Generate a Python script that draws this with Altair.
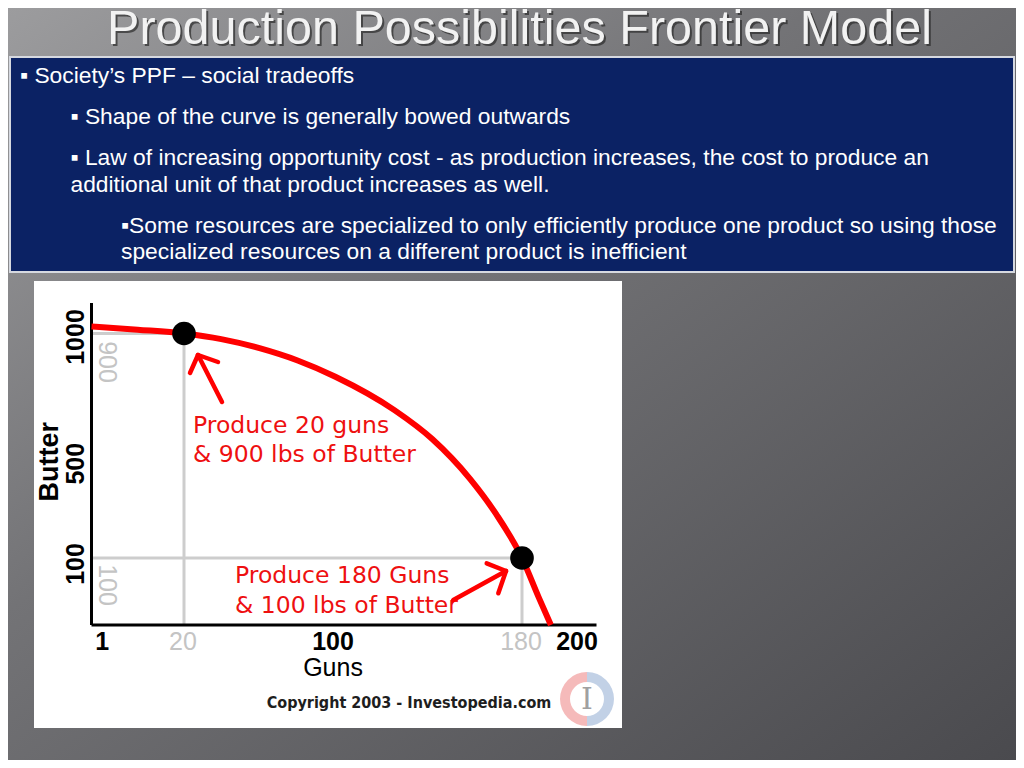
import math
import altair as alt
import pandas as pd

# ---------------- data ----------------
CURVE_GUNS = [0, 10, 20, 40, 61, 81, 101, 126, 142, 158, 169, 180, 186, 190.5]
CURVE_BUTTER = [1000, 954, 900, 880, 847, 804, 746, 627, 524, 382, 257, 100, 42, 0]
POINT_GUNS = [20, 180]
POINT_BUTTER = [900, 100]
X_TICKS_MAIN = [1, 100, 200]
X_TICKS_MARKED = [20, 180]
Y_TICKS_MAIN = [1000, 500, 100]
Y_TICKS_MARKED = [900, 100]
AXIS_END_GUNS = 207
AXIS_END_BUTTER = 1300

TITLE = "Production Possibilities Frontier Model"
BULLETS = [
    "\u25aa Society\u2019s PPF \u2013 social tradeoffs",
    "\u25aa Shape of the curve is generally bowed outwards",
    "\u25aa Law of increasing opportunity cost - as production increases, the cost to produce an",
    "additional unit of that product increases as well.",
    "\u25aaSome resources are specialized to only efficiently produce one product so using those",
    "specialized resources on a different product is inefficient",
]
ANNOT_1 = ["Produce 20 guns", "& 900 lbs of Butter"]
ANNOT_2 = ["Produce 180 Guns", "& 100 lbs of Butter"]
X_TITLE = "Guns"
Y_TITLE = "Butter"
CREDIT = "Copyright 2003 - Investopedia.com"

# ---------------- layout ----------------
W, H = 1008, 752
M = 8  # page margin


def px(v):
    return v - M


X_DOMAIN = [0, 20, 100, 180, 200, AXIS_END_GUNS]
X_RANGE = [px(v) for v in [91.5, 184, 333, 522, 577, 596.5]]
Y_DOMAIN = [0, 100, 900, 1000, AXIS_END_BUTTER]
Y_RANGE = [px(v) for v in [625, 558, 333.5, 326.5, 303]]
xs = alt.Scale(domain=X_DOMAIN, range=X_RANGE, nice=False, zero=False)
ys = alt.Scale(domain=Y_DOMAIN, range=Y_RANGE, nice=False, zero=False)

one = pd.DataFrame({"k": [0]})

RED = "#ff0000"
TXT_RED = "#ee1010"
GRID = "#cdcdcd"


def X(f):
    return alt.X(f, scale=xs, axis=None)


def Y(f):
    return alt.Y(f, scale=ys, axis=None)


def box(x0, y0, x1, y1, **mk):
    return alt.Chart(one).mark_rect(**mk).encode(
        x=alt.value(px(x0)), x2=alt.value(px(x1)),
        y=alt.value(px(y0)), y2=alt.value(px(y1)))


def ptext(txt, x, y, **mk):
    return alt.Chart(one).mark_text(text=txt, **mk).encode(
        x=alt.value(px(x)), y=alt.value(px(y)))


def screen_offset(sx, sy, angle):
    if angle == 270:
        return -sy, sx
    if angle == 90:
        return sy, -sx
    return sx, sy


def dtext(txt, g, b, sx, sy, angle=0, **mk):
    d = pd.DataFrame({"guns": [g], "butter": [b], "t": [txt]})
    dx, dy = screen_offset(sx, sy, angle)
    props = dict(dx=dx, dy=dy, **mk)
    if angle:
        props["angle"] = angle
    return alt.Chart(d).mark_text(**props).encode(
        x=X("guns:Q"), y=Y("butter:Q"), text="t:N")


def seg(g, b, o0, o1, **mk):
    d = pd.DataFrame({"guns": [g], "butter": [b]})
    return alt.Chart(d).mark_rule(
        xOffset=o0[0], yOffset=o0[1], x2Offset=o1[0], y2Offset=o1[1], **mk
    ).encode(x=X("guns:Q"), x2="guns:Q", y=Y("butter:Q"), y2="butter:Q")


layers = []

# slide background
bg = alt.LinearGradient(
    gradient="linear",
    stops=[alt.GradientStop(color="#9c9c9e", offset=0),
           alt.GradientStop(color="#737376", offset=0.4),
           alt.GradientStop(color="#4a4a4e", offset=1)],
    x1=0, y1=0, x2=1, y2=1)
layers.append(box(M, M, M + W, M + H, fill=bg))

# title with shadow
TFONT = dict(font="Liberation Sans", fontSize=48.5, align="center", baseline="middle")
layers.append(ptext(TITLE, 521.5, 31, fill="#2b2b2b", opacity=0.7, **TFONT))
layers.append(ptext(TITLE, 519.5, 29, fill="#f2f2f2", **TFONT))

# text box
layers.append(box(10, 57, 1014, 272, fill="#0b2264", stroke="#d6d9e0", strokeWidth=2))
BFONT = dict(font="Liberation Sans", fontSize=22.8, fill="white", align="left", baseline="alphabetic")
BPOS = [(20, 83), (70.5, 124), (70.5, 165), (70.5, 192), (121, 233), (121, 259)]
for t, (bx, by) in zip(BULLETS, BPOS):
    layers.append(ptext(t, bx, by, **BFONT))

# white picture area
layers.append(box(34, 281, 622, 728, fill="white"))

pts = pd.DataFrame({"guns": POINT_GUNS, "butter": POINT_BUTTER, "base": [0, 0]})
curve = pd.DataFrame({"guns": CURVE_GUNS, "butter": CURVE_BUTTER})
axes = pd.DataFrame({"g0": [0], "g1": [AXIS_END_GUNS], "b0": [0], "b1": [AXIS_END_BUTTER]})

# guide lines
layers.append(alt.Chart(pts).mark_rule(color=GRID, strokeWidth=3).encode(
    x=X("guns:Q"), y=Y("base:Q"), y2="butter:Q"))
layers.append(alt.Chart(pts).mark_rule(color=GRID, strokeWidth=3).encode(
    x=X("base:Q"), x2="guns:Q", y=Y("butter:Q")))

# axis lines
layers.append(alt.Chart(axes).mark_rule(color="black", strokeWidth=3).encode(
    x=X("g0:Q"), x2="g1:Q", y=Y("b0:Q")))
layers.append(alt.Chart(axes).mark_rule(color="black", strokeWidth=3).encode(
    x=X("g0:Q"), y=Y("b0:Q"), y2="b1:Q"))

# frontier
layers.append(alt.Chart(curve).mark_line(color=RED, strokeWidth=6, interpolate="monotone").encode(
    x=X("guns:Q"), y=Y("butter:Q")))

# points
layers.append(alt.Chart(pts).mark_circle(size=560, color="black", opacity=1).encode(
    x=X("guns:Q"), y=Y("butter:Q")))

# tick labels
LFONT = dict(font="Liberation Sans", fontSize=25, align="center", baseline="middle")
x_nudge = {1: 6}
for v in X_TICKS_MAIN:
    layers.append(dtext(str(v), v, 0, x_nudge.get(v, 0), 17, fill="black", fontWeight="bold", **LFONT))
for v in X_TICKS_MARKED:
    layers.append(dtext(str(v), v, 0, -1, 17, fill="#c4c4c4", **LFONT))
y_nudge = {1000: 10.5, 500: 18, 100: 6}
for v in Y_TICKS_MAIN:
    layers.append(dtext(str(v), 0, v, -15.5, y_nudge[v], angle=270, fill="black", fontWeight="bold", **LFONT))
ym_nudge = {900: 28.5, 100: 27}
for v in Y_TICKS_MARKED:
    layers.append(dtext(str(v), 0, v, 15.5, ym_nudge[v], angle=90, fill="#c4c4c4", **LFONT))

# axis titles
layers.append(dtext(X_TITLE, 100, 0, 0, 43, font="Liberation Sans", fontSize=25,
                    align="center", baseline="middle", fill="black"))
layers.append(dtext(Y_TITLE, 0, 500, -42, 16, angle=270, font="Liberation Sans", fontSize=27,
                    fontWeight="bold", align="center", baseline="middle", fill="black"))

# annotations
AFONT = dict(font="DejaVu Sans", fontSize=23.5, align="left", baseline="alphabetic", fill=TXT_RED)
for i, t in enumerate(ANNOT_1):
    layers.append(dtext(t, POINT_GUNS[0], POINT_BUTTER[0], 9, 99.5 + 29 * i, **AFONT))
for i, t in enumerate(ANNOT_2):
    layers.append(dtext(t, POINT_GUNS[1], POINT_BUTTER[1], -287, 25 + 30 * i, **AFONT))

# arrows
AR = dict(color=RED, strokeWidth=4.5, strokeCap="round")
g, b = POINT_GUNS[0], POINT_BUTTER[0]
layers.append(seg(g, b, (38, 68.5), (14, 21.5), **AR))
layers.append(seg(g, b, (6, 39.5), (14, 21.5), **AR))
layers.append(seg(g, b, (34, 28.5), (14, 21.5), **AR))
g, b = POINT_GUNS[1], POINT_BUTTER[1]
layers.append(seg(g, b, (-68.7, 42), (-16, 13), **AR))
layers.append(seg(g, b, (-35.3, 5.3), (-16, 13), **AR))
layers.append(seg(g, b, (-23.7, 35.3), (-16, 13), **AR))

# credit + logo
layers.append(ptext(CREDIT, 409, 703, font="DejaVu Sans Condensed", fontSize=16, fontWeight="bold",
                    fill="#1e1e1e", align="center", baseline="middle"))
lx, ly = px(587), px(699)
layers.append(alt.Chart(one).mark_arc(theta=math.pi, theta2=2 * math.pi, radius=27, radius2=17,
                                      fill="#f3a9a9", opacity=0.8).encode(x=alt.value(lx), y=alt.value(ly)))
layers.append(alt.Chart(one).mark_arc(theta=0, theta2=math.pi, radius=27, radius2=17,
                                      fill="#b3c6e0", opacity=0.8).encode(x=alt.value(lx), y=alt.value(ly)))
layers.append(ptext("I", 587, 700, font="DejaVu Serif", fontSize=30, fill="#a0a0a0",
                    align="center", baseline="middle"))

chart = alt.layer(*layers).properties(
    width=W, height=H, padding=0,
    autosize=alt.AutoSizeParams(type="none"),
).configure_view(stroke=None).configure(background="#6d6d70")

chart.save("out.html", embed_options={"renderer": "svg", "actions": False})
